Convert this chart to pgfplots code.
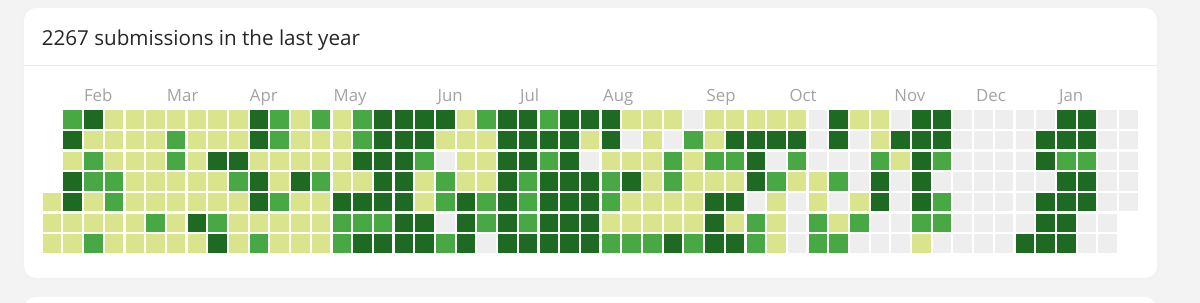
\documentclass[border=0pt]{standalone}
\usepackage{pgfplots}
\pgfplotsset{compat=1.18}
\usepackage{pgfplotstable}
\usepackage{fontspec}
\setmainfont{Open Sans}
\definecolor{bg}{HTML}{F3F3F4}
\definecolor{titlec}{HTML}{262626}
\definecolor{monthc}{HTML}{A3A3A3}
\definecolor{lv0}{HTML}{EEEEEE}
\definecolor{lv1}{HTML}{DAE48C}
\definecolor{lv2}{HTML}{48A843}
\definecolor{lv3}{HTML}{1E6A23}

% level per cell; -1 = no cell
\pgfplotstableread{
c r0 r1 r2 r3 r4 r5 r6
0 -1 -1 -1 -1 1 1 1
1 2 3 1 3 3 1 1
2 3 1 2 2 1 1 2
3 1 1 1 2 2 1 1
4 1 1 1 1 1 1 1
5 1 1 1 1 1 2 1
6 1 2 2 1 1 1 1
7 1 1 1 1 1 3 1
8 1 1 3 1 1 2 3
9 1 1 3 2 1 1 1
10 3 3 1 3 3 1 2
11 2 2 1 1 2 1 1
12 1 1 1 3 1 1 1
13 2 1 1 2 1 1 1
14 1 1 1 1 3 2 2
15 2 2 3 1 3 2 3
16 3 3 3 3 3 2 3
17 3 3 3 3 3 3 3
18 3 3 2 1 1 3 3
19 3 1 0 2 2 0 2
20 1 1 1 1 3 3 3
21 2 1 1 1 2 2 0
22 3 3 3 3 3 3 3
23 3 3 3 2 2 2 3
24 2 3 2 3 3 3 3
25 3 3 3 3 3 3 3
26 3 1 0 3 3 3 3
27 3 3 1 2 2 1 2
28 1 0 1 3 1 1 2
29 1 1 1 1 1 1 2
30 1 0 2 2 1 1 3
31 0 2 1 1 1 1 2
32 1 1 2 1 3 3 3
33 1 3 2 1 3 1 3
34 1 3 3 3 0 2 2
35 1 3 0 2 1 1 1
36 1 3 2 1 0 0 0
37 0 0 0 1 1 2 2
38 3 3 0 2 0 1 2
39 1 0 0 0 1 2 0
40 1 1 2 3 3 0 0
41 0 3 1 0 0 0 0
42 3 3 3 3 3 2 1
43 3 3 2 0 2 2 0
44 0 0 0 0 0 0 0
45 0 0 0 0 0 0 0
46 0 0 0 0 0 0 0
47 0 0 0 0 0 0 3
48 0 3 3 0 3 3 3
49 3 3 2 3 3 3 3
50 3 3 2 3 3 0 0
51 0 0 0 0 0 0 0
52 0 0 0 0 0 -1 -1
}\grid

\pgfplotsset{cells/.style={scatter, only marks, point meta=explicit,
  mark=square*, mark size=4.375pt, mark options={line width=0.4pt},
  scatter/use mapped color={draw=mapped color, fill=mapped color}}}

\begin{document}
\begin{tikzpicture}[x=0.5pt,y=-0.5pt]
\fill[bg] (0,0) rectangle (1200,303);
\fill[black!5, rounded corners=6pt] (22.5,7) rectangle (1159,280.5);
\fill[white, rounded corners=6pt] (24,8) rectangle (1157,278);
\begin{scope}
\clip (0,0) rectangle (1200,303);
\fill[white, rounded corners=6pt] (24,297) rectangle (1157,330);
\end{scope}
\draw[black!9, line width=0.5pt] (24,65.5) -- (1157,65.5);
\node[anchor=base west, inner sep=0pt, font=\fontsize{10.3}{12}\selectfont, text=titlec] at (41.5,46) {2267 submissions in the last year};
\begin{axis}[at={(20.75pt,-54.5pt)}, anchor=north west, scale only axis,
  width=548.55pt, height=72.45pt,
  xmin=-0.5, xmax=52.5, ymin=-0.5, ymax=6.5, y dir=reverse,
  colormap={lev}{color=(white) color=(lv0) color=(lv1) color=(lv2) color=(lv3)},
  point meta min=-1, point meta max=3,
  axis line style={draw=none}, xtick=\empty, ytick=\empty, clip=false]
\addplot[cells] table[x=c, y expr=0, meta=r0] {\grid};
\addplot[cells] table[x=c, y expr=1, meta=r1] {\grid};
\addplot[cells] table[x=c, y expr=2, meta=r2] {\grid};
\addplot[cells] table[x=c, y expr=3, meta=r3] {\grid};
\addplot[cells] table[x=c, y expr=4, meta=r4] {\grid};
\addplot[cells] table[x=c, y expr=5, meta=r5] {\grid};
\addplot[cells] table[x=c, y expr=6, meta=r6] {\grid};
\foreach \m/\p in {Feb/2.24, Mar/6.32, Apr/10.24, May/14.41, Jun/19.24, Jul/23.08, Aug/27.36, Sep/32.33, Oct/36.29, Nov/41.45, Dec/45.37, Jan/49.24}{
  \edef\tmp{\noexpand\node[anchor=base, inner sep=0pt, font=\noexpand\fontsize{8.4}{10}\noexpand\selectfont, text=monthc] at (axis cs:\p,-0.84) {\m};}
  \tmp
}
\end{axis}
\end{tikzpicture}
\end{document}
